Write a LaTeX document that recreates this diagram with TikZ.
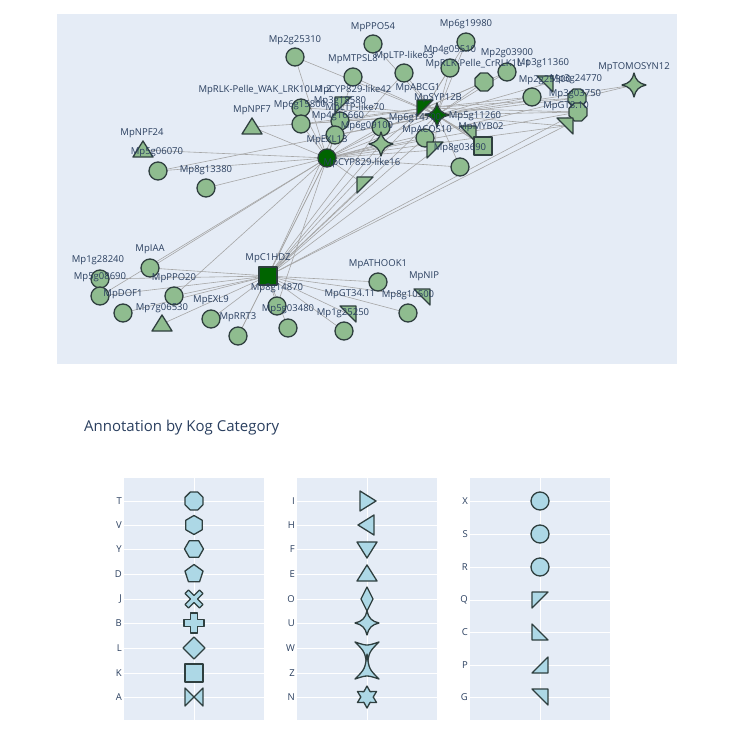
\documentclass[tikz,border=0pt]{standalone}
\usepackage{fontspec}
\setmainfont{Open Sans}
\definecolor{bg}{HTML}{E5ECF6}
\definecolor{gn}{HTML}{8FBC8F}
\definecolor{dk}{HTML}{006400}
\definecolor{lb}{HTML}{ADD8E6}
\definecolor{tx}{HTML}{2A3F5F}
\definecolor{ol}{HTML}{2F3F3F}
\def\nf{gn}
\tikzset{
 nd/.style={draw=ol,line width=1.3pt,fill=\nf,line join=round},
 lab/.style={text=tx,font=\fontsize{9.5}{11}\selectfont,inner sep=0},
 ax/.style={text=tx,font=\fontsize{9.5}{11}\selectfont,inner sep=0,anchor=east},
 ed/.style={draw=gray!70,line width=0.6pt},
 circ/.pic={\path[nd] (0,0) circle (9);},
 sq/.pic={\path[nd] (-9,-9) rectangle (9,9);},
 oct/.pic={\path[nd] (22.5:9.7) \foreach \a in {67.5,112.5,...,337.5}{--(\a:9.7)} -- cycle;},
 hex/.pic={\path[nd] (30:9.5) \foreach \a in {90,150,...,330}{--(\a:9.5)} -- cycle;},
 hexb/.pic={\path[nd] (0:9.5) \foreach \a in {60,120,...,300}{--(\a:9.5)} -- cycle;},
 pent/.pic={\path[nd] (-90:9.5) \foreach \a in {-18,54,126,198}{--(\a:9.5)} -- cycle;},
 triU/.pic={\path[nd] (0,-9)--(10,7)--(-10,7)--cycle;},
 triD/.pic={\path[nd] (0,9)--(10,-7)--(-10,-7)--cycle;},
 triR/.pic={\path[nd] (9,0)--(-7,-10)--(-7,10)--cycle;},
 triL/.pic={\path[nd] (-9,0)--(7,-10)--(7,10)--cycle;},
 triQ/.pic={\path[nd] (-8,-8)--(8,-8)--(-8,8)--cycle;},
 triC/.pic={\path[nd] (-8,-8)--(-8,8)--(8,8)--cycle;},
 triP/.pic={\path[nd] (8,-8)--(8,8)--(-8,8)--cycle;},
 triG/.pic={\path[nd] (-8,-8)--(8,-8)--(8,8)--cycle;},
 star4/.pic={\path[nd] (0,-12) .. controls (1.5,-5) and (5,-1.5) .. (12,0) .. controls (5,1.5) and (1.5,5) .. (0,12) .. controls (-1.5,5) and (-5,1.5) .. (-12,0) .. controls (-5,-1.5) and (-1.5,-5) .. (0,-12) -- cycle;},
 diam/.pic={\path[nd] (0,-11)--(11,0)--(0,11)--(-11,0)--cycle;},
 diamT/.pic={\path[nd] (0,-12)--(6,0)--(0,12)--(-6,0)--cycle;},
 xsh/.pic={\path[nd] (0,-3.5)--(5.5,-9)--(9,-5.5)--(3.5,0)--(9,5.5)--(5.5,9)--(0,3.5)--(-5.5,9)--(-9,5.5)--(-3.5,0)--(-9,-5.5)--(-5.5,-9)--cycle;},
 cross/.pic={\path[nd] (-3.5,-10)--(3.5,-10)--(3.5,-3.5)--(10,-3.5)--(10,3.5)--(3.5,3.5)--(3.5,10)--(-3.5,10)--(-3.5,3.5)--(-10,3.5)--(-10,-3.5)--(-3.5,-3.5)--cycle;},
 bow/.pic={\path[nd] (-9,-9)--(9,9)--(9,-9)--(-9,9)--cycle;},
 hgW/.pic={\path[nd] (-12,-6) .. controls (0,-2) .. (12,-6) .. controls (2,4) .. (0,19) .. controls (-2,4) .. (-12,-6) -- cycle;},
 hgZ/.pic={\path[nd] (-12,6) .. controls (0,2) .. (12,6) .. controls (2,-4) .. (0,-19) .. controls (-2,-4) .. (-12,6) -- cycle;},
 hexg/.pic={\path[nd] (90:11) \foreach \k in {1,...,11}{--({90+30*\k}:{mod(\k,2)==1 ? 6.2 : 11})} -- cycle;},
}
\begin{document}
\begin{tikzpicture}[x=1pt,y=-1pt]
\useasboundingbox (0,0) rectangle (735,735);
\fill[white] (0,0) rectangle (735,735);
\fill[bg] (57,14) rectangle (677,364);
% node coordinates
\foreach \n/\x/\y in {a1/295/57,a2/373/44,a3/466/42,a4/353/77,a5/404/73,a6/450/68,a7/507/72,a8/484/82,a9/545/84,a10/532/97,a11/577/98,a12/578/112,a13/634/85,a14/565/126,a15/252/127,a16/301/108,a17/301/124,a18/343/105,a19/340/121,a20/335/135,a21/381/127,a22/381/144,h3/425/108,h4/437/115,a23/425/138,a24/468/134,a25/483/146,a26/435/150,a27/460/167,h1/327/158,a28/365/185,a29/143/150,a30/158/171,a31/206/188,
b1/150/268,b2/100/279,b3/100/296,b4/123/313,b5/174/296,b6/162/324,b7/211/319,b8/238/336,h2/268/276,b9/277/306,b10/288/328,b11/378/282,b12/422/297,b13/348/314,b14/408/313,b15/344/331}
  {\coordinate (\n) at (\x,\y);}
% edges
\foreach \t in {a1,a4,a15,a16,a17,a19,a20,a21,a22,a23,a29,a30,a31,a28,a27,h3,h4,a26,a5,a13,a14,a12,b1,b3,b9,b8,b5}
  {\draw[ed] (h1) -- (\t);}
\foreach \t in {a1,a2,a3,a4,a5,a6,a7,a8,a9,a10,a11,a12,a13,a14,a15,a16,a17,a19,a20,a21,a23,a24,a25,a26,a27,a30,a18}
  {\draw[ed] (h4) -- (\t);}
\foreach \t in {a3,a6,a7,a8,a10,a11,a12,a17,a19,a22,a24,a25}
  {\draw[ed] (h3) -- (\t);}
\foreach \t in {b1,b2,b3,b4,b5,b6,b7,b8,b9,b10,b11,b12,b13,b14,b15,a28,h3,h4,a21,a22,a23,a14,a12,h1,a26,a19}
  {\draw[ed] (h2) -- (\t);}
% node shapes
\foreach \n/\s in {a1/circ,a2/circ,a3/circ,a4/circ,a5/circ,a6/circ,a7/circ,a8/oct,a9/triG,a10/circ,a11/oct,a12/oct,a13/star4,a14/triG,a15/triU,a16/circ,a17/circ,a18/triQ,a19/circ,a20/circ,a21/circ,a22/star4,a23/circ,a24/triG,a25/sq,a26/triQ,a27/circ,a28/triQ,a29/triU,a30/circ,a31/circ,
b1/circ,b2/circ,b3/circ,b4/circ,b5/circ,b6/triU,b7/circ,b8/circ,b9/circ,b10/circ,b11/circ,b12/triG,b13/triG,b14/circ,b15/circ}
  {\pic at (\n) {\s};}
\begin{scope}
\def\nf{dk}
\pic at (h1) {circ};
\pic at (h2) {sq};
\pic at (h3) {triQ};
\pic at (h4) {star4};
\end{scope}
% labels
\foreach \x/\y/\t [count=\i] in {295/40/Mp2g25310,373/27/MpPPO54,466/24/Mp6g19980,353/59/MpMTPSL8,404/56/MpLTP-like63,450/50/Mp4g05510,507/53/Mp2g03900,478/64/MpRLK-Pelle\_CrRLK1L-1,543/63/Mp3g11360,545/80/Mp2g25500,576/79/Mp3g24770,575/94/Mp3g03750,566/106/MpGT8.10,634/67/MpTOMOSYN12,
265/90/MpRLK-Pelle\_WAK\_LRK10L-1.2,353/90/MpCYP829-like42,340/101/Mp3g18580,300/105/Mp6g15800,355/108/MpLTP-like70,338/116/Mp4g16660,252/110/MpNPF7,367/126/Mp6g09100,418/88/MpABCG1,438/98/MpSYP12B,415/118/Mp6g14700,475/116/Mp5g11260,427/130/MpACOS10,481/127/MpMYB02,460/148/Mp8g03690,327/140/MpEXL13,362/163/MpCYP829-like16,142/133/MpNPF24,157/152/Mp5g06070,206/170/Mp8g13380,
150/249/MpIAA,98/260/Mp1g28240,100/277/Mp5g08690,123/294/MpDOF1,174/278/MpPPO20,162/308/Mp7g06530,211/300/MpEXL9,238/317/MpRRT3,268/258/MpC1HDZ,277/288/Mp8g14870,288/309/Mp5g03480,378/264/MpATHOOK1,424/276/MpNIP,350/294/MpGT34.11,408/295/Mp8g10500,343/313/Mp1g25250}
  {\node[lab] (l\i) at (\x,\y) {\t};}
% legend
\node[text=tx,font=\fontsize{15}{17}\selectfont,anchor=west,inner sep=0] (title) at (84,428) {Annotation by Kog Category};
\foreach \px in {124,297,470}{\fill[bg] (\px,478) rectangle (\px+140,720);
  \draw[white,line width=1pt] (\px+70,478) -- (\px+70,720);}
\def\nf{lb}
\foreach \y/\t/\s/\u/\v in {501/T/oct/I/triR,525/V/hex/H/triL,549/Y/hexb/F/triD,574/D/pent/E/triU,599/J/xsh/O/diamT,623/B/cross/U/star4,648/L/diam/W/hgW,673/K/sq/Z/hgZ,697/A/bow/N/hexg}{
  \draw[white,line width=1pt] (124,\y) -- (264,\y);
  \draw[white,line width=1pt] (297,\y) -- (437,\y);
  \node[ax] (k\t) at (122,\y) {\t};
  \node[ax] (k\u) at (295,\y) {\u};
  \pic at (194,\y) {\s};
  \pic at (367,\y) {\v};
}
\foreach \y/\t/\s in {501/X/circ,534/S/circ,567/R/circ,600/Q/triQ,632/C/triC,665/P/triP,697/G/triG}{
  \draw[white,line width=1pt] (470,\y) -- (610,\y);
  \node[ax] (k\t) at (468,\y) {\t};
  \pic at (540,\y) {\s};
}
\end{tikzpicture}
\end{document}
